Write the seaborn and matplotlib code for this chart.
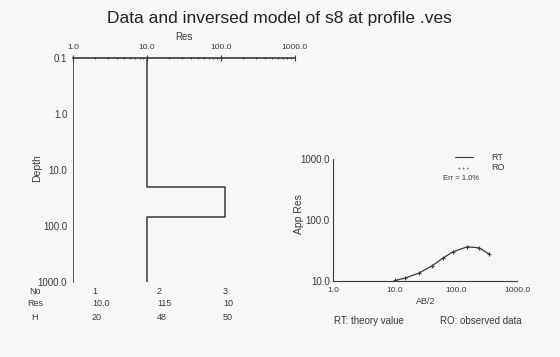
import numpy as np
import pandas as pd
import matplotlib
matplotlib.use("Agg")
import matplotlib.pyplot as plt
import matplotlib.ticker as mticker
import seaborn as sns

# layer model
camadas = ["1", "2", "3"]
res_camadas = [10.0, 115, 10]
h_camadas = [20, 48, 50]

# sounding curve (AB/2, apparent resistivity)
ab2 = [10.2, 14.9, 24.6, 40.7, 60.8, 89.8, 152, 236, 344]
rho_obs = [10.3, 11.3, 13.4, 17.6, 23.5, 30.3, 36.5, 35.2, 27.7]
rho_teo = [10.2, 11.2, 13.4, 17.7, 23.6, 30.2, 36.3, 35.0, 27.8]

ticks_res = [1.0, 10.0, 100.0, 1000.0]
ticks_prof = [0.1, 1.0, 10.0, 100.0, 1000.0]
ticks_app = [10.0, 100.0, 1000.0]

sns.set_style("white")
plt.rcParams['font.family'] = ['Liberation Sans', 'DejaVu Sans']
cor = "#3a3a3a"
fundo = "#f7f7f7"

fig = plt.figure(figsize=(5.6, 3.57), dpi=100, facecolor=fundo)

# ---- model panel
topo = np.cumsum(h_camadas[:-1])
xs, ys = [], []
prof_ini = ticks_prof[0]
for i, r in enumerate(res_camadas):
    prof_fim = topo[i] if i < len(topo) else ticks_prof[-1]
    xs += [r, r]
    ys += [prof_ini, prof_fim]
    prof_ini = prof_fim
df_modelo = pd.DataFrame({"res": xs, "prof": ys})

ax1 = fig.add_axes([0.130, 0.210, 0.396, 0.6275], facecolor=fundo)
sns.lineplot(data=df_modelo, x="res", y="prof", sort=False, estimator=None,
             color=cor, lw=1.1, ax=ax1)
ax1.set_xscale("log")
ax1.set_yscale("log")
ax1.set_xlim(ticks_res[0], ticks_res[-1])
ax1.set_ylim(ticks_prof[-1], ticks_prof[0])
ax1.xaxis.tick_top()
ax1.xaxis.set_label_position("top")
ax1.set_xticks(ticks_res)
ax1.set_yticks(ticks_prof)
fmt = mticker.FuncFormatter(lambda v, p: f"{v:.1f}")
ax1.xaxis.set_major_formatter(fmt)
ax1.yaxis.set_major_formatter(fmt)
ax1.xaxis.set_minor_locator(mticker.LogLocator(subs=np.arange(2, 10)))
ax1.yaxis.set_minor_locator(mticker.LogLocator(subs=np.arange(2, 10)))
ax1.xaxis.set_minor_formatter(mticker.NullFormatter())
ax1.yaxis.set_minor_formatter(mticker.NullFormatter())
ax1.tick_params(axis="x", which="major", labelsize=6, length=4, width=0.8, direction="inout", colors=cor, pad=3)
ax1.tick_params(axis="y", which="major", labelsize=7, length=4, width=0.8, direction="inout", colors=cor, pad=2)
ax1.tick_params(which="minor", length=2, width=0.6, direction="inout", colors=cor)
for s in ["right", "bottom"]:
    ax1.spines[s].set_visible(False)
for s in ["top", "left"]:
    ax1.spines[s].set_color(cor)
ax1.spines["top"].set_linewidth(1.2)
ax1.spines["left"].set_linewidth(0.6)
ax1.set_xlabel("Res", fontsize=7, color=cor, labelpad=3)
ax1.set_ylabel("Depth", fontsize=7.5, color=cor)
ax1.yaxis.set_label_coords(-0.14, 0.51)

# ---- sounding panel
df_curva = pd.DataFrame({"ab2": ab2, "obs": rho_obs, "teo": rho_teo})
ax2 = fig.add_axes([0.595, 0.2129, 0.329, 0.3417], facecolor=fundo)
sns.lineplot(data=df_curva, x="ab2", y="teo", color=cor, lw=0.9, ax=ax2)
sns.scatterplot(data=df_curva, x="ab2", y="obs", marker="+", color=cor, s=8, linewidth=0.8, ax=ax2)
ax2.set_xscale("log")
ax2.set_yscale("log")
ax2.set_xlim(1, 1000)
ax2.set_ylim(ticks_app[0], ticks_app[-1])
ax2.set_xticks(ticks_res)
ax2.set_yticks(ticks_app)
ax2.xaxis.set_major_formatter(fmt)
ax2.yaxis.set_major_formatter(fmt)
ax2.xaxis.set_minor_locator(mticker.LogLocator(subs=np.arange(2, 10)))
ax2.yaxis.set_minor_locator(mticker.LogLocator(subs=np.arange(2, 10)))
ax2.xaxis.set_minor_formatter(mticker.NullFormatter())
ax2.yaxis.set_minor_formatter(mticker.NullFormatter())
ax2.tick_params(axis="x", which="major", labelsize=6, length=3, width=0.7, direction="inout", colors=cor, pad=3)
ax2.tick_params(axis="y", which="major", labelsize=7, length=3, width=0.7, direction="inout", colors=cor, pad=1)
ax2.tick_params(which="minor", length=2, width=0.5, direction="inout", colors=cor)
for s in ["right", "top"]:
    ax2.spines[s].set_visible(False)
for s in ["bottom", "left"]:
    ax2.spines[s].set_color(cor)
    ax2.spines[s].set_linewidth(0.8)
ax2.set_xlabel("AB/2", fontsize=6.5, color=cor, labelpad=2)
ax2.set_ylabel("App Res", fontsize=7.5, color=cor)
ax2.yaxis.set_label_coords(-0.16, 0.55)

# legend drawn by hand like the original
fig.add_artist(plt.Line2D([455 / 560, 473 / 560], [1 - 157 / 357] * 2, color=cor, lw=0.8))
fig.text(464 / 560, 1 - 169 / 357, "+ + +", fontsize=3.5, color=cor, ha="center", va="center")
fig.text(491 / 560, 1 - 157 / 357, "RT", fontsize=6.5, color=cor, va="center")
fig.text(491 / 560, 1 - 168 / 357, "RO", fontsize=6.5, color=cor, va="center")
fig.text(443 / 560, 1 - 179 / 357, "Err = 1.0%", fontsize=5.5, color=cor, va="center")

fig.text(369 / 560, 1 - 321 / 357, "RT: theory value", fontsize=7, color=cor, ha="center", va="center")
fig.text(481 / 560, 1 - 321 / 357, "RO: observed data", fontsize=7, color=cor, ha="center", va="center")

# title
fig.text(279 / 560, 1 - 18 / 357, "Data and inversed model of s8 at profile .ves",
         fontsize=12.5, color="#222222", ha="center", va="center")

# layer table
linhas_y = [292, 304, 317]
for rotulo, ly in zip(["No", "Res", "H"], linhas_y):
    fig.text(35 / 560, 1 - ly / 357, rotulo, fontsize=6.5, color=cor, ha="center", va="center")
col_x = [92, 157, 223]
for i in range(len(camadas)):
    r = res_camadas[i]
    txt_r = f"{r:.1f}" if i == 0 else f"{r:g}"
    fig.text(col_x[i] / 560, 1 - linhas_y[0] / 357, camadas[i], fontsize=6.5, color=cor, va="center")
    fig.text(col_x[i] / 560, 1 - linhas_y[1] / 357, txt_r, fontsize=6.5, color=cor, va="center")
    fig.text(col_x[i] / 560, 1 - linhas_y[2] / 357, str(h_camadas[i]), fontsize=6.5, color=cor, va="center")

fig.savefig("out.png", dpi=100, facecolor=fundo)
